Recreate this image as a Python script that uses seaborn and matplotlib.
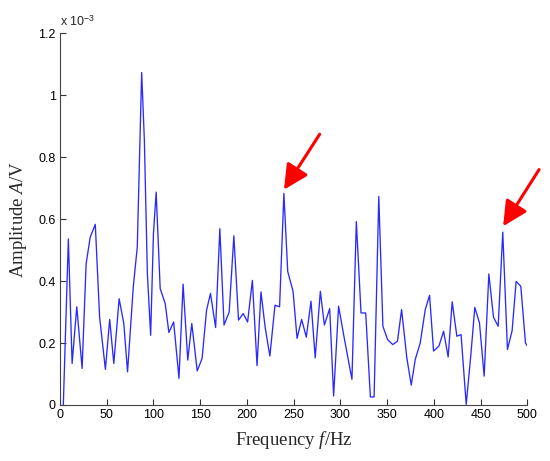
import matplotlib
matplotlib.use("Agg")
import matplotlib.pyplot as plt
import seaborn as sns

# spectrum (amplitude in units of 1e-3 V)
freq = [3.6, 9, 13, 18, 23.7, 28, 32.4, 37.8, 42.4, 48.6,
        53.2, 57.6, 63.3, 68.3, 72.3, 78.4, 82.7, 87.4, 90.3, 93.5,
        97, 100, 102.9, 107.2, 112.6, 116.5, 121.6, 127.3, 131.7, 136.7,
        141, 146.8, 152, 156.8, 161, 166.5, 171, 175.5, 181, 186,
        191, 196, 200.7, 205.8, 210.8, 215, 219.5, 224.5, 230, 234.9,
        239.5, 243.6, 249.3, 253.6, 258.5, 263.5, 268.5, 273, 278.5, 282.8,
        288.5, 292.7, 298, 303.4, 308, 312.3, 317, 322, 327, 332,
        336, 341, 345.4, 350.4, 356, 361, 365.4, 371, 375.7, 380,
        385.3, 390.7, 395.3, 399.6, 405.3, 410.3, 415.2, 419.5, 424.5, 429,
        434.5, 439.5, 443.7, 448.7, 453.7, 458.7, 463.7, 468.7, 473.6, 478.6,
        483.6, 487.9, 492.9, 497.9, 500]
amp = [0, 0.536, 0.134, 0.317, 0.118, 0.456, 0.542, 0.583, 0.284, 0.115,
       0.276, 0.134, 0.343, 0.263, 0.107, 0.38, 0.51, 1.073, 0.853, 0.424,
       0.225, 0.553, 0.687, 0.376, 0.327, 0.234, 0.268, 0.086, 0.39, 0.145,
       0.263, 0.11, 0.15, 0.306, 0.36, 0.25, 0.569, 0.258, 0.30, 0.546,
       0.274, 0.295, 0.268, 0.402, 0.127, 0.365, 0.25, 0.158, 0.322, 0.317,
       0.683, 0.431, 0.367, 0.215, 0.276, 0.219, 0.335, 0.152, 0.367, 0.258,
       0.311, 0.029, 0.319, 0.227, 0.152, 0.083, 0.592, 0.297, 0.297, 0.026,
       0.026, 0.673, 0.254, 0.211, 0.195, 0.206, 0.308, 0.152, 0.064, 0.147,
       0.20, 0.308, 0.354, 0.174, 0.19, 0.238, 0.155, 0.333, 0.222, 0.227,
       0.002, 0.163, 0.315, 0.265, 0.093, 0.423, 0.283, 0.254, 0.558, 0.179,
       0.24, 0.399, 0.383, 0.20, 0.19]

xticks = [0, 50, 100, 150, 200, 250, 300, 350, 400, 450, 500]
yticks = [0, 0.2, 0.4, 0.6, 0.8, 1.0, 1.2]
ytick_labels = ["0", "0.2", "0.4", "0.6", "0.8", "1", "1.2"]

# arrows: (tail, tip) in data units
arrows = [((277.8, 0.874), (239.6, 0.695)),
          ((512.5, 0.76), (474, 0.577))]

sns.set_style("ticks")
plt.rcParams["font.family"] = ["Liberation Sans", "DejaVu Sans"]
plt.rcParams["mathtext.fontset"] = "custom"
plt.rcParams["mathtext.rm"] = "Liberation Sans"
plt.rcParams["mathtext.it"] = "Liberation Serif:italic"

fig = plt.figure(figsize=(5.5, 4.61), dpi=100)
ax = fig.add_axes([0.109, 0.1215, 0.850, 0.8065])

sns.lineplot(x=freq, y=amp, ax=ax, color="#2a2aff", linewidth=0.95,
             estimator=None, sort=False)

ax.set_xlim(0, 500)
ax.set_ylim(0, 1.2)
ax.set_xticks(xticks)
ax.set_yticks(yticks)
ax.set_yticklabels(ytick_labels)
ax.tick_params(direction="in", length=4, width=0.8, labelsize=9,
               colors="#333333", labelcolor="black", pad=3)
for s in ["top", "right"]:
    ax.spines[s].set_visible(False)
for s in ["left", "bottom"]:
    ax.spines[s].set_color("#444444")
    ax.spines[s].set_linewidth(0.8)

ax.set_xlabel("Frequency $f$/Hz", family="Liberation Serif", fontsize=13.5,
              labelpad=6)
ax.set_ylabel("Amplitude $A$/V", family="Liberation Serif", fontsize=13.5,
              labelpad=7)
ax.text(0.0, 1.012, "x 10$^{-3}$", transform=ax.transAxes, fontsize=9,
        ha="left", va="bottom")

for tail, tip in arrows:
    ax.annotate("", xy=tip, xytext=tail, annotation_clip=False,
                arrowprops=dict(arrowstyle="-|>,head_length=1.0,head_width=0.5",
                                color="red", lw=2.2, mutation_scale=15,
                                shrinkA=0, shrinkB=0))

fig.savefig("out.png", dpi=100)
